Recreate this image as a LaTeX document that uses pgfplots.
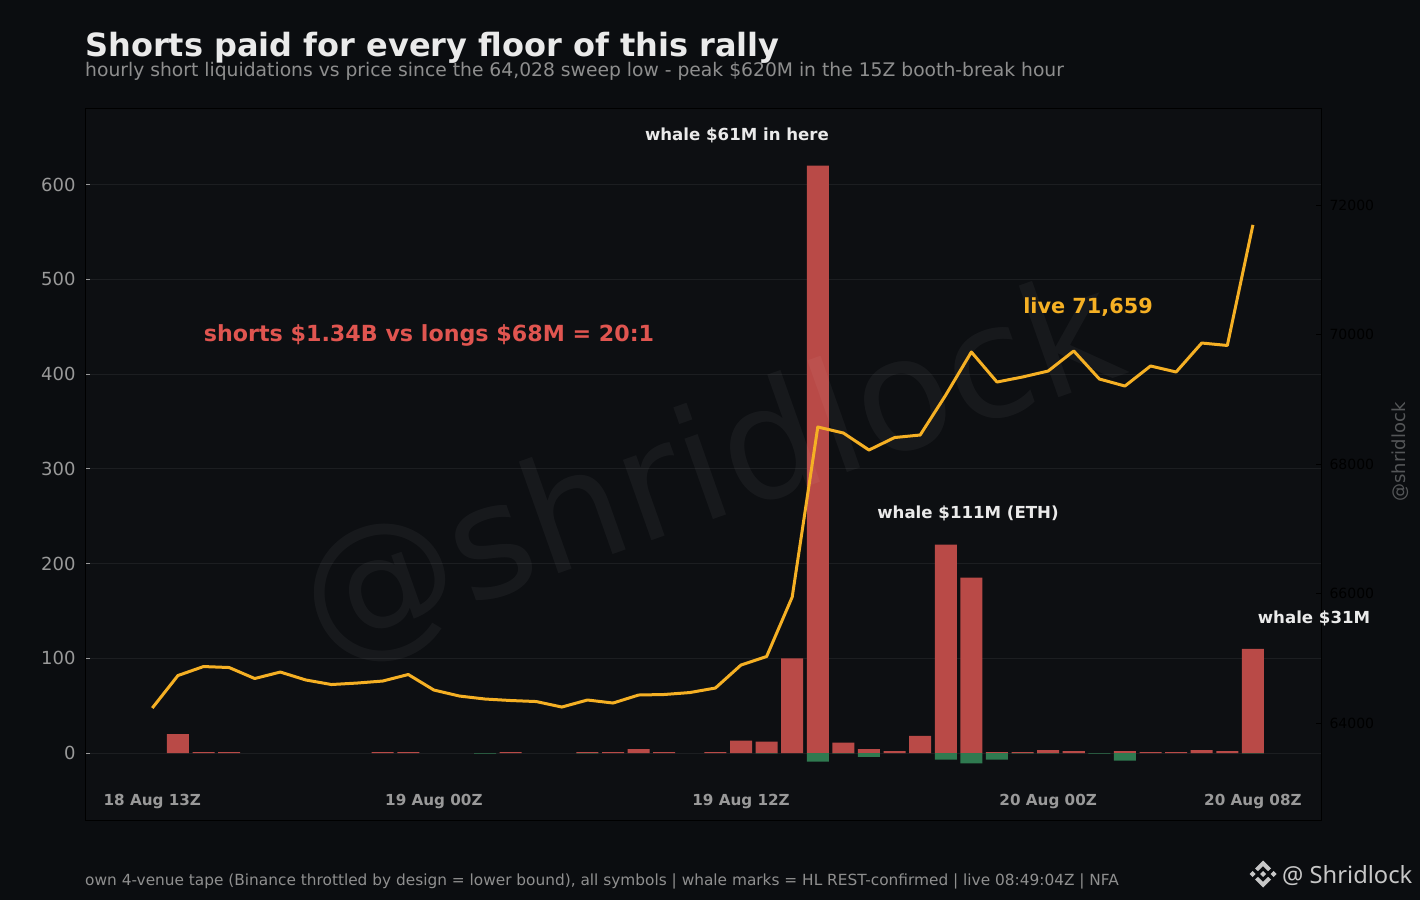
\documentclass[border=0pt]{standalone}
\usepackage{fontspec}
\setmainfont{DejaVu Sans}
\newfontfamily\logofont{Noto Sans}
\usepackage{pgfplots}
\pgfplotsset{compat=1.18}
\usepackage{pgfplotstable}
\definecolor{figbg}{HTML}{0B0D10}
\definecolor{axbg}{HTML}{0D0F12}
\definecolor{gridc}{HTML}{1C1E21}
\definecolor{shortc}{HTML}{B94A47}
\definecolor{longc}{HTML}{2F7A50}
\definecolor{pricec}{HTML}{F5B024}
\definecolor{lab}{HTML}{999999}
\definecolor{sub}{HTML}{8E8E8E}
\definecolor{titlec}{HTML}{EAEAEA}
\definecolor{redtxt}{HTML}{E05550}
\definecolor{foot}{HTML}{8F8F8F}
\pgfplotstableread{
x short
1 20
2 1
3 1
9 1
10 1
14 1
17 1
18 1
19 4
20 1
22 1
23 13
24 12
25 100
26 620
27 11
28 4
29 2
30 18
31 220
32 185
33 1
34 1
35 3
36 2
38 2
39 1
40 1
41 3
42 2
43 110
}\shorts
\pgfplotstableread{
x long
13 -0.6
17 -0.4
24 -0.5
26 -9
27 -0.5
28 -4
31 -7
32 -11
33 -7
34 -0.3
35 -0.3
37 -0.7
38 -8
43 -0.4
}\longs
\pgfplotstableread{
x price
0 64232
1 64734
2 64873
3 64858
4 64688
5 64788
6 64665
7 64595
8 64618
9 64649
10 64750
11 64510
12 64417
13 64371
14 64348
15 64332
16 64247
17 64356
18 64309
19 64433
20 64441
21 64471
22 64541
23 64897
24 65028
25 65948
26 68576
27 68483
28 68220
29 68413
30 68452
31 69070
32 69735
33 69271
34 69349
35 69441
36 69751
37 69318
38 69209
39 69519
40 69426
41 69874
42 69836
43 71700
}\price
\begin{document}
\begin{tikzpicture}[x=1pt,y=1pt]
\useasboundingbox (0,0) rectangle (1420,900);
\fill[figbg] (0,0) rectangle (1420,900);
\node[anchor=base west,inner sep=0pt,text=titlec,font=\fontsize{32}{32}\selectfont\bfseries] at (85,900-57) {Shorts paid for every floor of this rally};
\node[anchor=base west,inner sep=0pt,text=sub,font=\fontsize{18.73}{18.73}\selectfont] at (85,900-76.5) {hourly short liquidations vs price since the 64,028 sweep low - peak \$620M in the 15Z booth-break hour};
\begin{axis}[
  at={(85pt,80pt)},anchor=south west,scale only axis,
  width=1236pt,height=712pt,
  xmin=-2.63,xmax=45.66,ymin=-70.7,ymax=680.7,
  axis background/.style={fill=axbg},
  axis line style={draw=black,line width=0.8pt},
  axis y line*=left,axis x line*=bottom,
  ytick={0,100,200,300,400,500,600},
  ymajorgrids,grid style={gridc,line width=0.9pt},
  major tick length=5pt,
  ytick style={draw=lab,line width=0.8pt},
  xtick={0,11,23,35,43},
  xticklabels={18 Aug 13Z,19 Aug 00Z,19 Aug 12Z,20 Aug 00Z,20 Aug 08Z},
  x tick style={draw=none},
  xticklabel style={text=lab,font=\fontsize{15.2}{15.2}\selectfont\bfseries,yshift=34pt},
  yticklabel style={text=lab,font=\fontsize{18}{18}\selectfont,xshift=-6pt},
  /pgf/number format/assume math mode=true,
  /pgf/number format/fixed,
  ybar,bar width=0.86,bar shift=0pt,
  clip=true]
\addplot[fill=shortc,draw=none] table[x=x,y=short]{\shorts};
\addplot[fill=longc,draw=none] table[x=x,y=long]{\longs};
\end{axis}
\node[rotate=19.5,text=white,opacity=0.045,font=\fontsize{156}{156}\selectfont] at (711,900-472) {@shridlock};
\begin{axis}[
  at={(85pt,80pt)},anchor=south west,scale only axis,
  width=1236pt,height=712pt,
  xmin=-2.63,xmax=45.66,ymin=62501,ymax=73507,
  axis x line=none,
  axis y line*=right,
  axis line style={draw=black,line width=0.8pt},
  ytick={64000,66000,68000,70000,72000},
  major tick length=5pt,
  ytick style={draw=black,line width=0.8pt},
  scaled y ticks=false,
  yticklabel style={text=black,font=\fontsize{14}{14}\selectfont,xshift=5pt},
  /pgf/number format/assume math mode=true,
  /pgf/number format/set thousands separator={},
  clip=true]
\addplot[pricec,line width=3pt,line join=round,no markers] table[x=x,y=price]{\price};
\end{axis}
\draw[black,line width=0.8pt] (85,80) rectangle (1321,792);
\node[text=titlec,font=\fontsize{16.6}{16.6}\selectfont\bfseries,inner sep=0pt] at (737,900-135) {whale \$61M in here};
\node[text=titlec,font=\fontsize{16.6}{16.6}\selectfont\bfseries,inner sep=0pt] at (968,900-513) {whale \$111M (ETH)};
\node[text=titlec,font=\fontsize{16.6}{16.6}\selectfont\bfseries,inner sep=0pt] at (1314,900-618) {whale \$31M};
\node[text=redtxt,font=\fontsize{22.2}{22.2}\selectfont\bfseries,inner sep=0pt] at (429,900-335) {shorts \$1.34B vs longs \$68M = 20:1};
\node[text=pricec,font=\fontsize{20.8}{20.8}\selectfont\bfseries,inner sep=0pt] at (1088,900-307) {live 71,659};
\node[rotate=90,text=white,opacity=0.3,font=\fontsize{18}{18}\selectfont,inner sep=0pt] at (1400,900-452) {@shridlock};
\node[anchor=base west,inner sep=0pt,text=foot,font=\fontsize{15.35}{15.35}\selectfont] at (85,900-885) {own 4-venue tape (Binance throttled by design = lower bound), all symbols | whale marks = HL REST-confirmed | live 08:49:04Z | NFA};
\begin{scope}[shift={(1263,900-874)},fill=titlec!85!black]
\fill (0,13.5) -- (8,5.5) -- (5,2.8) -- (0,7.8) -- (-5,2.8) -- (-8,5.5) -- cycle;
\fill (0,-13.5) -- (8,-5.5) -- (5,-2.8) -- (0,-7.8) -- (-5,-2.8) -- (-8,-5.5) -- cycle;
\fill (0,3) -- (3,0) -- (0,-3) -- (-3,0) -- cycle;
\fill (-13.5,0) -- (-10.5,3) -- (-7.5,0) -- (-10.5,-3) -- cycle;
\fill (13.5,0) -- (10.5,3) -- (7.5,0) -- (10.5,-3) -- cycle;
\end{scope}
\node[anchor=base west,inner sep=0pt,text=titlec!85!black,font=\logofont\fontsize{23.7}{23.7}\selectfont] at (1282,900-883) {@ Shridlock};
\end{tikzpicture}
\end{document}
